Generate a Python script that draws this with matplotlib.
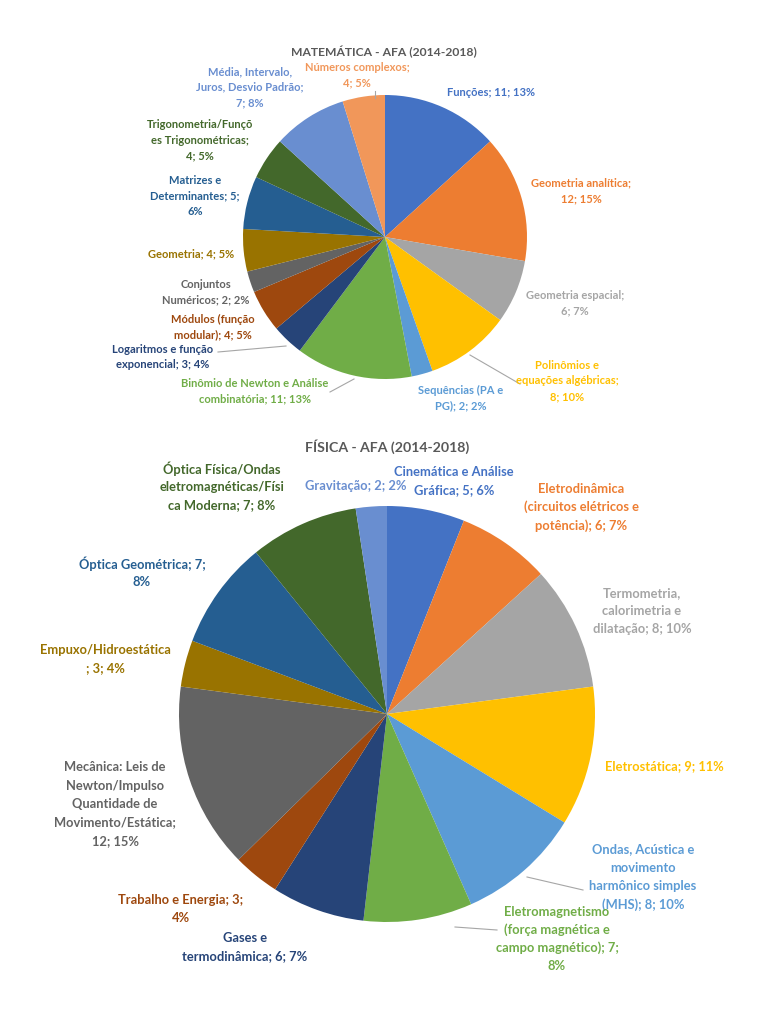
#!/usr/bin/env python3
"""Two pie charts: AFA exam topics 2014-2018 (Matemática and Física)."""

import matplotlib
matplotlib.use('Agg')
import matplotlib.pyplot as plt

plt.rcParams['font.family'] = ['Lato', 'DejaVu Sans']
plt.rcParams['font.weight'] = 'bold'

# --- data -------------------------------------------------------------
math_labels = [
    'Funções', 'Geometria analítica', 'Geometria espacial',
    'Polinômios e equações algébricas', 'Sequências (PA e PG)',
    'Binômio de Newton e Análise combinatória',
    'Logaritmos e função exponencial', 'Módulos (função modular)',
    'Conjuntos Numéricos', 'Geometria', 'Matrizes e Determinantes',
    'Trigonometria/Funções Trigonométricas',
    'Média, Intervalo, Juros, Desvio Padrão', 'Números complexos',
]
math_counts = [11, 12, 6, 8, 2, 11, 3, 4, 2, 4, 5, 4, 7, 4]
math_pcts = [13, 15, 7, 10, 2, 13, 4, 5, 2, 5, 6, 5, 8, 5]

phys_labels = [
    'Cinemática e Análise Gráfica',
    'Eletrodinâmica (circuitos elétricos e potência)',
    'Termometria, calorimetria e dilatação', 'Eletrostática',
    'Ondas, Acústica e movimento harmônico simples (MHS)',
    'Eletromagnetismo (força magnética e campo magnético)',
    'Gases e termodinâmica', 'Trabalho e Energia',
    'Mecânica: Leis de Newton/Impulso Quantidade de Movimento/Estática',
    'Empuxo/Hidroestática', 'Óptica Geométrica',
    'Óptica Física/Ondas eletromagnéticas/Física Moderna', 'Gravitação',
]
phys_counts = [5, 6, 8, 9, 8, 7, 6, 3, 12, 3, 7, 7, 2]
phys_pcts = [6, 7, 10, 11, 10, 8, 7, 4, 15, 4, 8, 8, 2]

# office palette, used in order
palette = ['#4472C4', '#ED7D31', '#A5A5A5', '#FFC000', '#5B9BD5', '#70AD47',
           '#264478', '#9E480E', '#636363', '#997300', '#255E91', '#43682B',
           '#698ED0', '#F1975A']

# --- layout (pixel coords, y downwards) ---------------------------------
# label text as wrapped in the original, and the centre of each label
math_wrap = [
    'Funções; {c}; {p}%', 'Geometria analítica;\n{c}; {p}%',
    'Geometria espacial;\n{c}; {p}%',
    'Polinômios e\nequações algébricas;\n{c}; {p}%',
    'Sequências (PA e\nPG); {c}; {p}%',
    'Binômio de Newton e Análise\ncombinatória; {c}; {p}%',
    'Logaritmos e função\nexponencial; {c}; {p}%',
    'Módulos (função\nmodular); {c}; {p}%',
    'Conjuntos\nNuméricos; {c}; {p}%', 'Geometria; {c}; {p}%',
    'Matrizes e\nDeterminantes; {c};\n{p}%',
    'Trigonometria/Funçõ\nes Trigonométricas;\n{c}; {p}%',
    'Média, Intervalo,\nJuros, Desvio Padrão;\n{c}; {p}%',
    'Números complexos;\n{c}; {p}%',
]
math_pos = [(491, 92), (581, 191), (575, 303), (567, 381), (461, 398),
            (255, 391), (163, 357), (213, 327), (206, 292), (191, 254),
            (195, 196), (200, 140), (250, 87), (357, 75)]

phys_wrap = [
    'Cinemática e Análise\nGráfica; {c}; {p}%',
    'Eletrodinâmica\n(circuitos elétricos e\npotência); {c}; {p}%',
    'Termometria,\ncalorimetria e\ndilatação; {c}; {p}%',
    'Eletrostática; {c}; {p}%',
    'Ondas, Acústica e\nmovimento\nharmônico simples\n(MHS); {c}; {p}%',
    'Eletromagnetismo\n(força magnética e\ncampo magnético); {c};\n{p}%',
    'Gases e\ntermodinâmica; {c}; {p}%',
    'Trabalho e Energia; {c};\n{p}%',
    'Mecânica: Leis de\nNewton/Impulso\nQuantidade de\nMovimento/Estática;\n{c}; {p}%',
    'Empuxo/Hidroestática\n; {c}; {p}%',
    'Óptica Geométrica; {c};\n{p}%',
    'Óptica Física/Ondas\neletromagnéticas/Físi\nca Moderna; {c}; {p}%',
    'Gravitação; {c}; {p}%',
]
phys_pos = [(454, 481), (581, 507), (642, 611), (664, 766), (643, 877),
            (557, 939), (245, 947), (181, 909), (115, 804), (105, 659),
            (142, 573), (222, 487), (356, 486)]

fig = plt.figure(figsize=(7.68, 10.24), dpi=100)
ax = fig.add_axes([0, 0, 1, 1])


def draw_pie(counts, pcts, wrap, pos, center, radius, fontsize, line_h):
    colors = palette[:len(counts)]
    # y axis is inverted below, so counterclock=True reads clockwise on screen
    ax.pie(counts, colors=colors, startangle=-90, counterclock=True,
           center=center, radius=radius, wedgeprops=dict(linewidth=0))
    for txt, c, p, col, (x, y) in zip(wrap, counts, pcts, colors, pos):
        lines = txt.format(c=c, p=p).split('\n')
        top = y - (len(lines) - 1) * line_h / 2
        # one text per line so neighbouring labels don't share a box
        for i, line in enumerate(lines):
            ax.text(x, top + i * line_h, line, color=col, ha='center',
                    va='center', fontsize=fontsize, fontweight='bold')


draw_pie(math_counts, math_pcts, math_wrap, math_pos, (385, 237), 142,
         8.0, 15.5)
draw_pie(phys_counts, phys_pcts, phys_wrap, phys_pos, (387, 714), 208,
         9.3, 18.3)

ax.text(384, 52, 'MATEMÁTICA - AFA (2014-2018)', ha='center', va='center',
        fontsize=8.7, fontweight='bold', color='#595959')
ax.text(387, 447, 'FÍSICA - AFA (2014-2018)', ha='center', va='center',
        fontsize=10.2, fontweight='bold', color='#595959')

# leader lines
leaders = [((375, 91), (375, 98)), ((470, 355), (520, 384)),
           ((218, 352), (286, 346)), ((330, 392), (354, 379)),
           ((527, 877), (583, 890)), ((455, 927), (497, 930))]
for (x0, y0), (x1, y1) in leaders:
    ax.plot([x0, x1], [y0, y1], color='#A6A6A6', lw=0.8)

ax.set_xlim(0, 768)
ax.set_ylim(1024, 0)
ax.set_aspect('auto')
ax.axis('off')

fig.savefig('out.png', dpi=100, facecolor='white')
